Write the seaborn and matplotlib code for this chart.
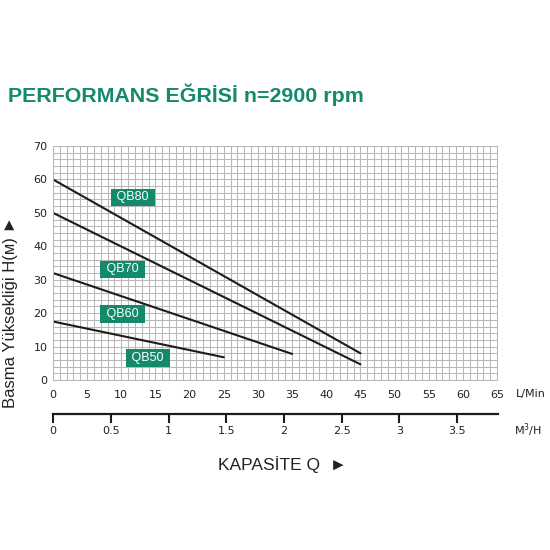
import numpy as np
import pandas as pd
import matplotlib
matplotlib.use("Agg")
import matplotlib.pyplot as plt
import seaborn as sns

# ---- data ----
models = ["QB80", "QB70", "QB60", "QB50"]
flow_start = [0, 0, 0, 0]          # L/min
flow_end = [45, 45, 35, 25]        # L/min
head_start = [60, 50, 32, 17.5]    # m
head_end = [8, 4.7, 7.8, 6.8]      # m
label_x = [11.7, 10.2, 10.2, 13.9]
label_y = [54.6, 33.1, 19.7, 6.6]

lmin_ticks = list(range(0, 70, 5))
head_ticks = list(range(0, 80, 10))
m3h_ticks = [0, 0.5, 1, 1.5, 2, 2.5, 3, 3.5]
m3h_labels = ["0", "0.5", "1", "1.5", "2", "2.5", "3", "3.5"]

rows = []
for m, x0, x1, y0, y1 in zip(models, flow_start, flow_end, head_start, head_end):
    rows.append({"model": m, "Q": x0, "H": y0})
    rows.append({"model": m, "Q": x1, "H": y1})
df = pd.DataFrame(rows)

sns.set_style("white")
plt.rcParams["font.family"] = ["Liberation Sans", "DejaVu Sans"]

GREEN = "#138a6c"
DARK = "#1c1c1c"
fig = plt.figure(figsize=(5.5, 5.5), dpi=100)
ax = fig.add_axes([53 / 550, 1 - 380 / 550, 444 / 550, 234 / 550])

ax.set_xlim(0, 65)
ax.set_ylim(0, 70)
ax.set_xticks(lmin_ticks)
ax.set_yticks(head_ticks)
ax.set_xticks(np.arange(0, 66, 1), minor=True)
ax.set_yticks(np.arange(0, 71, 2), minor=True)
ax.grid(which="both", color="#b8b8b8", linewidth=0.75)
ax.set_axisbelow(True)

sns.lineplot(data=df, x="Q", y="H", hue="model", units="model", estimator=None,
             palette=[DARK] * 4, linewidth=1.5, legend=False, ax=ax)

ax.set_xlim(0, 65)
ax.set_ylim(0, 70)
ax.tick_params(which="both", length=0)
ax.tick_params(axis="x", labelsize=8, labelcolor="#222222", pad=7)
ax.tick_params(axis="y", labelsize=8, labelcolor="#222222", pad=4)
for lab in ax.get_xticklabels() + ax.get_yticklabels():
    lab.set_family("DejaVu Sans")
for s in ax.spines.values():
    s.set_color("#b8b8b8")
    s.set_linewidth(0.75)
ax.set_xlabel("")
ax.set_ylabel("")

for m, lx, ly in zip(models, label_x, label_y):
    ax.text(lx, ly, " " + m + " ", color="white", fontsize=9, ha="center", va="center",
            bbox=dict(boxstyle="square,pad=0.22", fc=GREEN, ec="none"))

fig.text(531 / 550, 1 - 394 / 550, "L/Min", fontsize=8, ha="center", va="center",
         family="DejaVu Sans", color="#222222")

# secondary m3/h axis
ax2 = fig.add_axes([53 / 550, 1 - 414 / 550, 445 / 550, 0.0001])
ax2.set_xlim(0, 445 / 115.5)
ax2.set_ylim(0, 1)
ax2.set_xticks(m3h_ticks)
ax2.set_xticklabels(m3h_labels, family="DejaVu Sans")
ax2.set_yticks([])
for k in ["top", "left", "right"]:
    ax2.spines[k].set_visible(False)
ax2.spines["bottom"].set_color(DARK)
ax2.spines["bottom"].set_linewidth(1.6)
ax2.tick_params(axis="x", bottom=True, direction="out", length=6.5, width=1.5, color=DARK,
                labelsize=8, labelcolor="#222222", pad=2)
ax2.set_facecolor("none")

fig.text(528 / 550, 1 - 430 / 550, "M$^3$/H", fontsize=8, ha="center", va="center",
         family="DejaVu Sans", color="#222222")

fig.text(8 / 550, 1 - 95 / 550, "PERFORMANS EĞRİSİ n=2900 rpm", fontsize=15.4,
         fontweight="bold", color=GREEN, ha="left", va="center")
fig.text(283 / 550, 1 - 465 / 550, "KAPASİTE Q  ►", fontsize=12.5, color="#222222",
         ha="center", va="center", family=["Liberation Sans", "DejaVu Sans"])
fig.text(11 / 550, 1 - 312 / 550, "Basma Yüksekliği H(ᴍ) ►", fontsize=12,
         color="#222222", rotation=90, ha="center", va="center",
         family=["Liberation Sans", "DejaVu Sans"])

fig.savefig("out.png", dpi=100)
